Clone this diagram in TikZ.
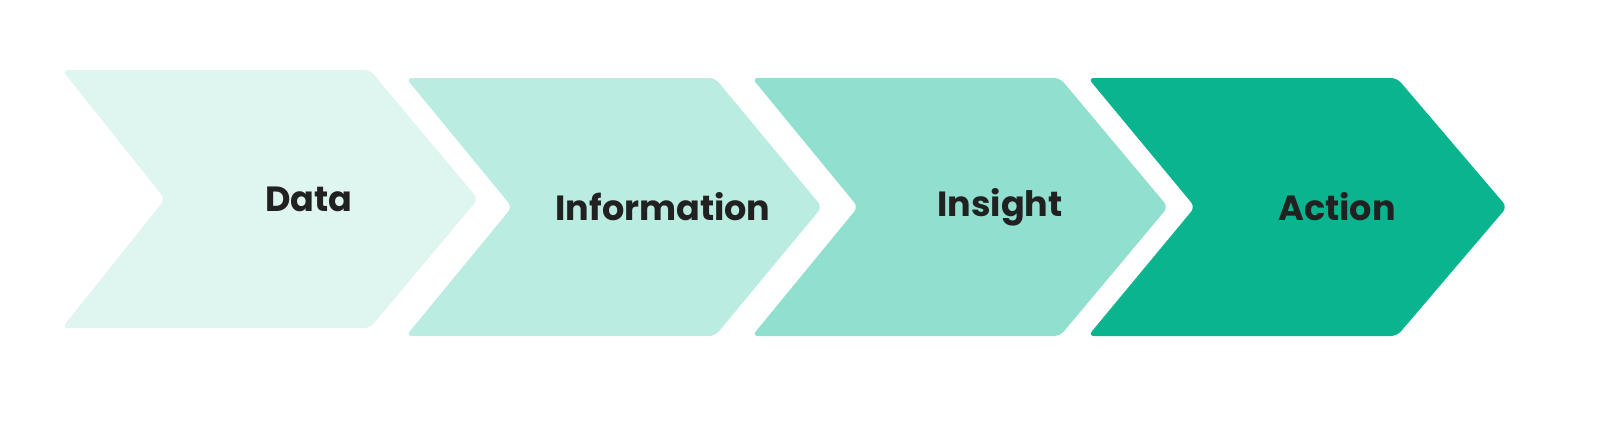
\documentclass[tikz,border=0pt]{standalone}
\usepackage{fontspec}
\setmainfont{Poppins}
\begin{document}
\begin{tikzpicture}[x=0.5pt,y=-0.5pt,
  chev/.style={draw=none,rounded corners=3pt},
  lbl/.style={font=\fontsize{17.5}{21}\selectfont\bfseries,text=black!87}]
\definecolor{c1}{HTML}{DFF5EF}\definecolor{c2}{HTML}{BAECE1}
\definecolor{c3}{HTML}{91DFCF}\definecolor{c4}{HTML}{0AB48F}
\useasboundingbox (0,0) rectangle (1600,425);
\fill[c1,chev] (62,70) -- (370,70) -- (478,199) -- (370,328) -- (62,328) -- (165,199) -- cycle;
\fill[c2,chev] (406,78) -- (715,78) -- (822,207) -- (715,336) -- (406,336) -- (512,207) -- cycle;
\fill[c3,chev] (752,78) -- (1060,78) -- (1168,207) -- (1060,336) -- (752,336) -- (858,207) -- cycle;
\fill[c4,chev] (1088,78) -- (1397,78) -- (1507,207) -- (1397,336) -- (1088,336) -- (1195,207) -- cycle;
\node[lbl] (d) at (309,199) {Data};
\node[lbl] (i) at (663,207) {Information};
\node[lbl] (s) at (1000,207) {Insight};
\node[lbl] (a) at (1337,207) {Action};
\end{tikzpicture}
\end{document}
